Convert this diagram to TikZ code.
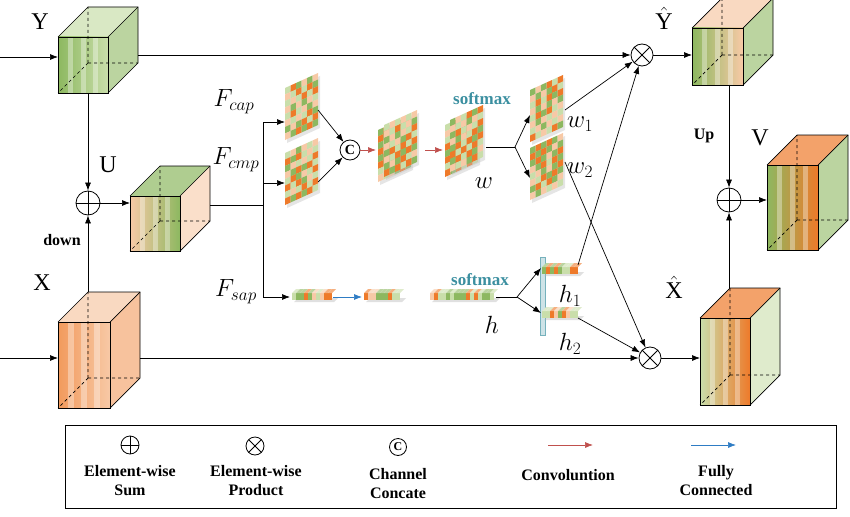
\documentclass[tikz,border=0pt]{standalone}
\usepackage{fontspec}
\setmainfont{Liberation Serif}
\usetikzlibrary{arrows.meta}
\definecolor{GrnA}{HTML}{8DB860}
\definecolor{GrnB}{HTML}{C9DEAA}
\definecolor{OrgA}{HTML}{EE7A2A}
\definecolor{OrgB}{HTML}{F7C9A6}
\definecolor{OrgC}{HTML}{F29A5C}
\definecolor{SoftBlue}{HTML}{3B8FA0}
\definecolor{ConvRed}{HTML}{C0504D}
\definecolor{FcBlue}{HTML}{2E7CC4}
\tikzset{>=Latex,
  arr/.style={->, line width=0.7pt, -{Latex[length=8pt,width=6pt]}},
  ln/.style={line width=0.7pt},
  opn/.style={circle, draw, line width=0.8pt, minimum size=24pt, inner sep=0pt,
    path picture={\draw (path picture bounding box.north) -- (path picture bounding box.south)
      (path picture bounding box.west) -- (path picture bounding box.east);}},
  otn/.style={circle, draw, line width=0.8pt, minimum size=22pt, inner sep=0pt,
    path picture={\draw (path picture bounding box.north west) -- (path picture bounding box.south east)
      (path picture bounding box.south west) -- (path picture bounding box.north east);}},
  catn/.style={circle, draw, line width=0.8pt, minimum size=20pt, inner sep=0pt, font=\bfseries\fontsize{14}{14}\selectfont},
  lbl/.style={font=\fontsize{24}{24}\selectfont},
  fl/.style={font=\fontsize{25}{25}\selectfont},
  bl/.style={font=\bfseries\fontsize{16}{19}\selectfont, align=center},
  sm/.style={font=\bfseries\fontsize{17}{17}\selectfont, text=SoftBlue}}
% cube: name, x, y, w, h, depth, colour left, colour right
\newcommand\cube[8]{
  \fill[#8!70] (#2,#3) -- ++(#6,-#6) -- ++(#4,0) -- ++(-#6,#6) -- cycle;
  \fill[#7!60] ({#2+#4},#3) -- ++(#6,-#6) -- ++(0,#5) -- ++(-#6,#6) -- cycle;
  \shade[left color=#7, right color=#8] (#2,#3) rectangle ++(#4,#5);
  \foreach \s in {0.2,0.45,0.7}{\fill[white, opacity=0.35] ({#2+\s*#4},#3) rectangle ++({0.1*#4},#5);}
  \draw[ln] (#2,#3) rectangle ++(#4,#5);
  \draw[ln] (#2,#3) -- ++(#6,-#6) -- ++(#4,0) -- ++(0,#5) -- ++(-#6,#6);
  \draw[ln] ({#2+#4},#3) -- ++(#6,-#6);
  \draw[ln, dashed] ({#2+#6},{#3+#5-#6}) -- ++(0,-#5) ({#2+#6},{#3+#5-#6}) -- ++(#4,0)
    ({#2+#6},{#3+#5-#6}) -- (#2,{#3+#5});
  \coordinate (#1-l) at (#2,{#3+#5/2});
  \coordinate (#1-r) at ({#2+#4+#6},{#3+#5/2});
  \coordinate (#1-t) at ({#2+#6},{#3-#6});
  \coordinate (#1-b) at ({#2+#6},{#3+#5});
}
% checker tile: x, y, seed
\newcommand\checker[3]{
  \pgfmathsetseed{#3}
  \fill[black!25, opacity=0.4] ({#1+2},{#2+3}) -- ++(33,-15) -- ++(0,52) -- ++(-33,15) -- cycle;
  \foreach \i in {0,...,5}{\foreach \j in {0,...,7}{
    \pgfmathrandominteger{\k}{1}{2}
    \pgfmathparse{int(mod(\i+\j,2))}
    \ifnum\pgfmathresult=0 \ifnum\k=1 \def\cc{GrnA}\else\def\cc{GrnB}\fi
    \else\ifnum\k=1 \def\cc{OrgA}\else\def\cc{OrgB}\fi\fi
    \fill[\cc, shift={(#1,#2)}] ({\i*5.5},{\j*6.5-\i*2.5}) -- ++(5.5,-2.5) -- ++(0,6.5) -- ++(-5.5,2.5) -- cycle;}}
}
% feature bar: x, y, cells, seed
\newcommand\featbar[4]{
  \pgfmathsetseed{#4}
  \fill[black!30, opacity=0.4] ({#1+2},{#2+9}) -- ++({#3*4},0) -- ++(4,-4) -- ++({-#3*4},0) -- cycle;
  \foreach \i in {1,...,#3}{
    \pgfmathrandominteger{\k}{1}{4}
    \ifcase\k\or\def\cc{GrnA}\or\def\cc{GrnB}\or\def\cc{OrgA}\or\def\cc{OrgB}\fi
    \fill[\cc] ({#1+(\i-1)*4},#2) rectangle ++(4,7);
    \fill[\cc!60] ({#1+(\i-1)*4},#2) -- ++(4,-4) -- ++(4,0) -- ++(-4,4) -- cycle;}
}
\begin{document}
\begin{tikzpicture}[x=1pt, y=-1pt]
\useasboundingbox (0,0) rectangle (850,516);
% cubes
\cube{Y}{58}{37}{50}{56}{30}{GrnA}{GrnB}
\cube{U}{130}{196}{50}{55}{30}{OrgB}{GrnA}
\cube{X}{58}{322}{52}{86}{30}{OrgC}{OrgB}
\cube{Yh}{692}{28}{51}{57}{30}{GrnA}{OrgB}
\cube{V}{767}{165}{51}{85}{30}{GrnA}{OrgA}
\cube{Xh}{700}{318}{50}{87}{30}{GrnB}{OrgA}
\node[lbl] at (40,22) {Y};
\node[lbl] at (108,165) {U};
\node[lbl] at (42,283) {X};
\node[lbl] at (664,18) {$\hat{\mathrm{Y}}$};
\node[lbl] at (760,138) {V};
\node[lbl] at (674,287) {$\hat{\mathrm{X}}$};
\node[bl] at (62,240) {down};
\node[bl] at (704,136) {Up};
% operators
\node[opn] (op1) at (88,203) {};
\node[opn] (op2) at (729,200) {};
\node[otn] (ot1) at (642,55) {};
\node[otn] (ot2) at (650,358) {};
\node[catn] (cat) at (350,150) {C};
% inputs
\coordinate (inY) at (0,57);
\coordinate (inX) at (0,358);
\draw[arr] (inY) -- (inY -| Y-l);
\draw[arr] (inX) -- (inX -| X-l);
\draw[arr] (Y-b) -- (op1);
\draw[arr] (X-t) -- (op1);
\draw[arr] (op1) -- (op1 -| U-l);
\draw[arr] (ot1 -| Y-r) -- (ot1);
\draw[arr] (ot2 -| X-r) -- (ot2);
\draw[arr] (ot1) -- (ot1 -| Yh-l);
\draw[arr] (ot2) -- (ot2 -| Xh-l);
\draw[arr] (op2 |- Yh-b) -- (op2);
\draw[arr] (op2 |- Xh-t) -- (op2);
\draw[arr] (op2) -- (op2 -| V-l);
% branches
\coordinate (br) at (263,205);
\coordinate (bt) at (263,122);
\coordinate (bm) at (263,183);
\coordinate (bb) at (263,297);
\draw[ln] (br -| U-r) -- (br);
\draw[ln] (bt) -- (bb);
\draw[arr] (bt) -- ++(22,0);
\draw[arr] (bm) -- ++(22,0);
\draw[arr] (bb) -- ++(27,0);
\node[fl] at (234,102) {$F_{cap}$};
\node[fl] at (236,160) {$F_{cmp}$};
\node[fl] at (236,292) {$F_{sap}$};
% tiles
\checker{285}{88}{3}
\checker{285}{153}{5}
\checker{378}{130}{8}
\checker{384}{125}{9}
\checker{445}{125}{11}
\checker{450}{120}{12}
\checker{530}{90}{14}
\checker{530}{148}{16}
\coordinate (t1) at (318,110);
\coordinate (t2) at (318,182);
\coordinate (cc) at (376,150);
\coordinate (sa) at (425,150);
\coordinate (sb) at (443,150);
\coordinate (wr) at (486,147);
\coordinate (wb) at (515,147);
\coordinate (w1) at (530,115);
\coordinate (w2) at (530,178);
\coordinate (w1r) at (565,110);
\coordinate (w2r) at (565,162);
\draw[arr] (t1) -- (cat);
\draw[arr] (t2) -- (cat);
\draw[arr, ConvRed] (cat) -- (cc);
\draw[arr, ConvRed] (sa) -- (sb);
\draw[ln] (wr) -- (wb);
\draw[arr] (wb) -- (w1);
\draw[arr] (wb) -- (w2);
\draw[arr] (w1r) -- (ot1);
\draw[arr] (w2r) -- (ot2);
\node[sm] at (482,99) {softmax};
\node[fl] at (484,183) {$w$};
\node[fl] at (580,124) {$w_1$};
\node[fl] at (580,170) {$w_2$};
% feature bars
\featbar{292}{293}{10}{21}
\featbar{364}{293}{9}{22}
\featbar{430}{293}{16}{23}
\fill[SoftBlue!25] (540,257) rectangle (545,335);
\draw[SoftBlue!70, line width=0.6pt] (540,257) rectangle (545,335);
\featbar{542}{267}{9}{24}
\featbar{542}{311}{9}{25}
\coordinate (f1) at (333,297);
\coordinate (f2) at (362,297);
\coordinate (hr) at (496,297);
\coordinate (hb) at (517,297);
\coordinate (h1) at (541,268);
\coordinate (h2) at (541,313);
\coordinate (h1r) at (578,265);
\coordinate (h2r) at (578,318);
\draw[arr, FcBlue] (f1) -- (f2);
\draw[ln] (hr) -- (hb);
\draw[arr] (hb) -- (h1);
\draw[arr] (hb) -- (h2);
\draw[arr] (h1r) -- (ot1);
\draw[arr] (h2r) -- (ot2);
\node[sm] at (480,280) {softmax};
\node[fl] at (492,325) {$h$};
\node[fl] at (570,296) {$h_1$};
\node[fl] at (570,344) {$h_2$};
% legend
\draw[line width=1pt] (65,425) rectangle (836,508);
\node[opn, minimum size=18pt] (lg1) at (130,445) {};
\node[otn, minimum size=18pt] (lg2) at (255,446) {};
\node[catn, minimum size=17pt, font=\bfseries\fontsize{12}{12}\selectfont] (lg3) at (398,447) {C};
\node[bl] at (130,481) {Element-wise\\Sum};
\node[bl] at (256,481) {Element-wise\\Product};
\node[bl] at (398,484) {Channel\\Concate};
\node[bl] at (568,475) {Convoluntion};
\node[bl] at (716,481) {Fully\\Connected};
\coordinate (c1) at (548,445);
\coordinate (c2) at (593,445);
\coordinate (d1) at (691,445);
\coordinate (d2) at (736,445);
\draw[arr, ConvRed] (c1) -- (c2);
\draw[arr, FcBlue] (d1) -- (d2);
\end{tikzpicture}
\end{document}
